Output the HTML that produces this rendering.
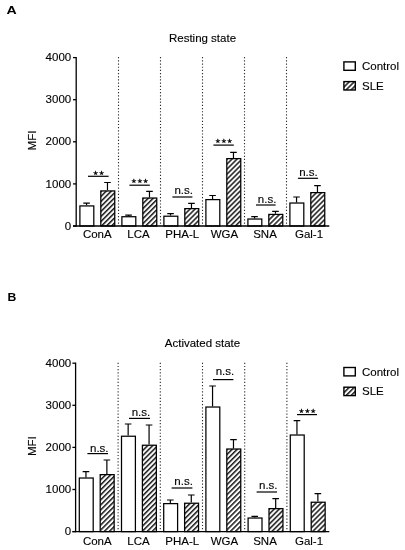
<!DOCTYPE html>
<html><head><meta charset="utf-8"><title>Resting and activated state MFI</title>
<style>
html,body{margin:0;padding:0;background:#fff;}
svg{display:block;}
text{font-family:"Liberation Sans", Arial, sans-serif;fill:#000;stroke:#000;stroke-width:0.12px;}
text.s{font-family:"DejaVu Sans",sans-serif;stroke-width:0.25px;}
.a{stroke:#000;stroke-width:1.3;}
.d{stroke:#2a2a2a;stroke-width:1.1;stroke-dasharray:1.2 1.98;}
.e{stroke:#000;stroke-width:1.2;fill:none;}
.b{stroke:#000;stroke-width:1.25;}
.l{stroke:#000;stroke-width:1.4;}
</style>
</head><body>
<svg width="405" height="550" viewBox="0 0 405 550">
<defs>
<pattern id="h1" patternUnits="userSpaceOnUse" width="3.55" height="3.55" patternTransform="translate(100.17 191.05) rotate(45)"><rect x="0.12" width="1.35" height="3.55" fill="#000"/></pattern>
<pattern id="h2" patternUnits="userSpaceOnUse" width="3.55" height="3.55" patternTransform="translate(142.18 198.15) rotate(45)"><rect x="0.12" width="1.35" height="3.55" fill="#000"/></pattern>
<pattern id="h3" patternUnits="userSpaceOnUse" width="3.55" height="3.55" patternTransform="translate(184.18 208.75) rotate(45)"><rect x="0.12" width="1.35" height="3.55" fill="#000"/></pattern>
<pattern id="h4" patternUnits="userSpaceOnUse" width="3.55" height="3.55" patternTransform="translate(226.18 158.75) rotate(45)"><rect x="0.12" width="1.35" height="3.55" fill="#000"/></pattern>
<pattern id="h5" patternUnits="userSpaceOnUse" width="3.55" height="3.55" patternTransform="translate(268.18 214.55) rotate(45)"><rect x="0.12" width="1.35" height="3.55" fill="#000"/></pattern>
<pattern id="h6" patternUnits="userSpaceOnUse" width="3.55" height="3.55" patternTransform="translate(310.18 192.75) rotate(45)"><rect x="0.12" width="1.35" height="3.55" fill="#000"/></pattern>
<pattern id="h7" patternUnits="userSpaceOnUse" width="3.55" height="3.55" patternTransform="translate(343.20 81.65) rotate(45)"><rect x="0.12" width="1.35" height="3.55" fill="#000"/></pattern>
<pattern id="h8" patternUnits="userSpaceOnUse" width="3.55" height="3.55" patternTransform="translate(99.58 474.75) rotate(45)"><rect x="0.12" width="1.35" height="3.55" fill="#000"/></pattern>
<pattern id="h9" patternUnits="userSpaceOnUse" width="3.55" height="3.55" patternTransform="translate(141.78 445.35) rotate(45)"><rect x="0.12" width="1.35" height="3.55" fill="#000"/></pattern>
<pattern id="h10" patternUnits="userSpaceOnUse" width="3.55" height="3.55" patternTransform="translate(183.98 503.35) rotate(45)"><rect x="0.12" width="1.35" height="3.55" fill="#000"/></pattern>
<pattern id="h11" patternUnits="userSpaceOnUse" width="3.55" height="3.55" patternTransform="translate(226.18 449.15) rotate(45)"><rect x="0.12" width="1.35" height="3.55" fill="#000"/></pattern>
<pattern id="h12" patternUnits="userSpaceOnUse" width="3.55" height="3.55" patternTransform="translate(268.38 508.75) rotate(45)"><rect x="0.12" width="1.35" height="3.55" fill="#000"/></pattern>
<pattern id="h13" patternUnits="userSpaceOnUse" width="3.55" height="3.55" patternTransform="translate(310.57 502.35) rotate(45)"><rect x="0.12" width="1.35" height="3.55" fill="#000"/></pattern>
<pattern id="h14" patternUnits="userSpaceOnUse" width="3.55" height="3.55" patternTransform="translate(343.20 387.25) rotate(45)"><rect x="0.12" width="1.35" height="3.55" fill="#000"/></pattern>
</defs>
<rect width="405" height="550" fill="#fff"/>
<text x="0" y="0" font-size="11.5" font-weight="bold" style="stroke:none" transform="translate(6.5 14.0) scale(1.23 0.98)">A</text>
<text x="202.50" y="42.20" font-size="11.5" text-anchor="middle">Resting state</text>
<text x="0" y="0" font-size="11.5" text-anchor="middle" transform="translate(35.9 140.50) rotate(-90)">MFI</text>
<line x1="73.0" y1="226.00" x2="76.2" y2="226.00" class="a"/>
<text x="71.20" y="229.60" font-size="11.5" text-anchor="end">0</text>
<line x1="73.0" y1="183.90" x2="76.2" y2="183.90" class="a"/>
<text x="71.20" y="187.50" font-size="11.5" text-anchor="end">1000</text>
<line x1="73.0" y1="141.80" x2="76.2" y2="141.80" class="a"/>
<text x="71.20" y="145.40" font-size="11.5" text-anchor="end">2000</text>
<line x1="73.0" y1="99.70" x2="76.2" y2="99.70" class="a"/>
<text x="71.20" y="103.30" font-size="11.5" text-anchor="end">3000</text>
<line x1="73.0" y1="57.60" x2="76.2" y2="57.60" class="a"/>
<text x="71.20" y="61.20" font-size="11.5" text-anchor="end">4000</text>
<line x1="118.50" y1="57.10" x2="118.50" y2="226.0" class="d"/>
<line x1="160.50" y1="57.10" x2="160.50" y2="226.0" class="d"/>
<line x1="202.50" y1="57.10" x2="202.50" y2="226.0" class="d"/>
<line x1="244.50" y1="57.10" x2="244.50" y2="226.0" class="d"/>
<line x1="286.50" y1="57.10" x2="286.50" y2="226.0" class="d"/>
<path d="M86.55 205.30V203.20M83.25 203.20H89.85" class="e"/>
<rect x="79.90" y="205.93" width="13.90" height="20.07" fill="#fff" class="b"/>
<path d="M107.48 190.30V182.50M104.18 182.50H110.78" class="e"/>
<rect x="100.80" y="190.93" width="13.95" height="35.07" fill="url(#h1)" class="b"/>
<line x1="88.0" y1="176.3" x2="108.6" y2="176.3" class="e"/>
<text x="98.90" y="174.50" font-size="5.9" letter-spacing="0.6" text-anchor="middle" class="s">★★</text>
<text x="97.30" y="238.40" font-size="11.5" text-anchor="middle">ConA</text>
<path d="M128.55 216.10V215.20M125.25 215.20H131.85" class="e"/>
<rect x="121.90" y="216.72" width="13.90" height="9.28" fill="#fff" class="b"/>
<path d="M149.47 197.40V191.40M146.17 191.40H152.78" class="e"/>
<rect x="142.80" y="198.03" width="13.95" height="27.97" fill="url(#h2)" class="b"/>
<line x1="129.4" y1="185.2" x2="149.8" y2="185.2" class="e"/>
<text x="140.20" y="183.40" font-size="5.9" letter-spacing="0.6" text-anchor="middle" class="s">★★★</text>
<text x="138.50" y="238.40" font-size="11.5" text-anchor="middle">LCA</text>
<path d="M170.55 215.60V213.60M167.25 213.60H173.85" class="e"/>
<rect x="163.90" y="216.22" width="13.90" height="9.78" fill="#fff" class="b"/>
<path d="M191.47 208.00V203.40M188.17 203.40H194.78" class="e"/>
<rect x="184.80" y="208.62" width="13.95" height="17.38" fill="url(#h3)" class="b"/>
<line x1="172.4" y1="197.0" x2="192.4" y2="197.0" class="e"/>
<text x="183.70" y="194.40" font-size="11.5" text-anchor="middle">n.s.</text>
<text x="182.30" y="238.40" font-size="11.5" text-anchor="middle">PHA-L</text>
<path d="M212.55 199.00V195.50M209.25 195.50H215.85" class="e"/>
<rect x="205.90" y="199.62" width="13.90" height="26.38" fill="#fff" class="b"/>
<path d="M233.47 158.00V152.40M230.17 152.40H236.78" class="e"/>
<rect x="226.80" y="158.62" width="13.95" height="67.38" fill="url(#h4)" class="b"/>
<line x1="213.4" y1="145.1" x2="233.8" y2="145.1" class="e"/>
<text x="224.20" y="143.30" font-size="5.9" letter-spacing="0.6" text-anchor="middle" class="s">★★★</text>
<text x="224.40" y="238.40" font-size="11.5" text-anchor="middle">WGA</text>
<path d="M254.55 218.40V216.60M251.25 216.60H257.85" class="e"/>
<rect x="247.90" y="219.03" width="13.90" height="6.97" fill="#fff" class="b"/>
<path d="M275.47 213.80V211.40M272.17 211.40H278.77" class="e"/>
<rect x="268.80" y="214.43" width="13.95" height="11.57" fill="url(#h5)" class="b"/>
<line x1="256.0" y1="205.0" x2="275.6" y2="205.0" class="e"/>
<text x="267.10" y="202.70" font-size="11.5" text-anchor="middle">n.s.</text>
<text x="265.00" y="238.40" font-size="11.5" text-anchor="middle">SNA</text>
<path d="M296.55 202.40V197.00M293.25 197.00H299.85" class="e"/>
<rect x="289.90" y="203.03" width="13.90" height="22.97" fill="#fff" class="b"/>
<path d="M317.47 192.00V185.60M314.17 185.60H320.77" class="e"/>
<rect x="310.80" y="192.62" width="13.95" height="33.38" fill="url(#h6)" class="b"/>
<line x1="297.9" y1="178.3" x2="318.1" y2="178.3" class="e"/>
<text x="308.50" y="175.70" font-size="11.5" text-anchor="middle">n.s.</text>
<text x="309.00" y="238.40" font-size="11.5" text-anchor="middle">Gal-1</text>
<line x1="76.2" y1="57.0" x2="76.2" y2="226.6" class="a"/>
<line x1="73.0" y1="226.0" x2="329.3" y2="226.0" class="a"/>
<rect x="343.9" y="61.90" width="11.4" height="8.4" fill="#fff" class="l"/>
<rect x="343.9" y="81.60" width="11.4" height="8.4" fill="url(#h7)" class="l"/>
<text x="362.00" y="70.30" font-size="11.5">Control</text>
<text x="362.00" y="89.60" font-size="11.5">SLE</text>
<text x="0" y="0" font-size="11.5" font-weight="bold" style="stroke:none" transform="translate(7.6 300.7) scale(1.06 1)">B</text>
<text x="202.50" y="347.20" font-size="11.5" text-anchor="middle">Activated state</text>
<text x="0" y="0" font-size="11.5" text-anchor="middle" transform="translate(35.9 446.10) rotate(-90)">MFI</text>
<line x1="72.4" y1="531.60" x2="75.60000000000001" y2="531.60" class="a"/>
<text x="71.20" y="535.20" font-size="11.5" text-anchor="end">0</text>
<line x1="72.4" y1="489.50" x2="75.60000000000001" y2="489.50" class="a"/>
<text x="71.20" y="493.10" font-size="11.5" text-anchor="end">1000</text>
<line x1="72.4" y1="447.40" x2="75.60000000000001" y2="447.40" class="a"/>
<text x="71.20" y="451.00" font-size="11.5" text-anchor="end">2000</text>
<line x1="72.4" y1="405.30" x2="75.60000000000001" y2="405.30" class="a"/>
<text x="71.20" y="408.90" font-size="11.5" text-anchor="end">3000</text>
<line x1="72.4" y1="363.20" x2="75.60000000000001" y2="363.20" class="a"/>
<text x="71.20" y="366.80" font-size="11.5" text-anchor="end">4000</text>
<line x1="118.10" y1="362.70" x2="118.10" y2="531.6" class="d"/>
<line x1="160.30" y1="362.70" x2="160.30" y2="531.6" class="d"/>
<line x1="202.50" y1="362.70" x2="202.50" y2="531.6" class="d"/>
<line x1="244.70" y1="362.70" x2="244.70" y2="531.6" class="d"/>
<line x1="286.90" y1="362.70" x2="286.90" y2="531.6" class="d"/>
<path d="M85.95 477.40V471.60M82.65 471.60H89.25" class="e"/>
<rect x="79.30" y="478.02" width="13.90" height="53.58" fill="#fff" class="b"/>
<path d="M106.88 474.00V460.00M103.58 460.00H110.18" class="e"/>
<rect x="100.20" y="474.62" width="13.95" height="56.98" fill="url(#h8)" class="b"/>
<line x1="87.4" y1="453.6" x2="108.0" y2="453.6" class="e"/>
<text x="99.30" y="451.50" font-size="11.5" text-anchor="middle">n.s.</text>
<text x="97.30" y="544.50" font-size="11.5" text-anchor="middle">ConA</text>
<path d="M128.15 435.60V424.00M124.85 424.00H131.45" class="e"/>
<rect x="121.50" y="436.23" width="13.90" height="95.38" fill="#fff" class="b"/>
<path d="M149.07 444.60V425.00M145.77 425.00H152.38" class="e"/>
<rect x="142.40" y="445.23" width="13.95" height="86.38" fill="url(#h9)" class="b"/>
<line x1="129.0" y1="418.4" x2="150.0" y2="418.4" class="e"/>
<text x="141.00" y="415.80" font-size="11.5" text-anchor="middle">n.s.</text>
<text x="138.50" y="544.50" font-size="11.5" text-anchor="middle">LCA</text>
<path d="M170.35 503.00V500.00M167.05 500.00H173.65" class="e"/>
<rect x="163.70" y="503.62" width="13.90" height="27.98" fill="#fff" class="b"/>
<path d="M191.28 502.60V495.00M187.97 495.00H194.58" class="e"/>
<rect x="184.60" y="503.23" width="13.95" height="28.38" fill="url(#h10)" class="b"/>
<line x1="171.6" y1="488.0" x2="192.4" y2="488.0" class="e"/>
<text x="183.60" y="485.10" font-size="11.5" text-anchor="middle">n.s.</text>
<text x="182.30" y="544.50" font-size="11.5" text-anchor="middle">PHA-L</text>
<path d="M212.55 406.40V386.00M209.25 386.00H215.85" class="e"/>
<rect x="205.90" y="407.02" width="13.90" height="124.58" fill="#fff" class="b"/>
<path d="M233.48 448.40V439.60M230.18 439.60H236.78" class="e"/>
<rect x="226.80" y="449.02" width="13.95" height="82.58" fill="url(#h11)" class="b"/>
<line x1="213.0" y1="379.6" x2="233.4" y2="379.6" class="e"/>
<text x="225.00" y="375.40" font-size="11.5" text-anchor="middle">n.s.</text>
<text x="224.40" y="544.50" font-size="11.5" text-anchor="middle">WGA</text>
<path d="M254.75 517.40V516.40M251.45 516.40H258.05" class="e"/>
<rect x="248.10" y="518.02" width="13.90" height="13.58" fill="#fff" class="b"/>
<path d="M275.68 508.00V498.60M272.38 498.60H278.98" class="e"/>
<rect x="269.00" y="508.62" width="13.95" height="22.98" fill="url(#h12)" class="b"/>
<line x1="256.6" y1="492.0" x2="277.0" y2="492.0" class="e"/>
<text x="268.30" y="489.40" font-size="11.5" text-anchor="middle">n.s.</text>
<text x="265.00" y="544.50" font-size="11.5" text-anchor="middle">SNA</text>
<path d="M296.95 434.40V420.60M293.65 420.60H300.25" class="e"/>
<rect x="290.30" y="435.02" width="13.90" height="96.58" fill="#fff" class="b"/>
<path d="M317.87 501.60V493.60M314.57 493.60H321.17" class="e"/>
<rect x="311.20" y="502.23" width="13.95" height="29.38" fill="url(#h13)" class="b"/>
<line x1="297.0" y1="414.6" x2="317.0" y2="414.6" class="e"/>
<text x="307.60" y="412.80" font-size="5.9" letter-spacing="0.6" text-anchor="middle" class="s">★★★</text>
<text x="309.00" y="544.50" font-size="11.5" text-anchor="middle">Gal-1</text>
<line x1="75.60000000000001" y1="362.59999999999997" x2="75.60000000000001" y2="532.2" class="a"/>
<line x1="72.4" y1="531.6" x2="329.3" y2="531.6" class="a"/>
<rect x="343.9" y="367.50" width="11.4" height="8.4" fill="#fff" class="l"/>
<rect x="343.9" y="387.20" width="11.4" height="8.4" fill="url(#h14)" class="l"/>
<text x="362.00" y="375.90" font-size="11.5">Control</text>
<text x="362.00" y="395.20" font-size="11.5">SLE</text>
</svg>
</body></html>
